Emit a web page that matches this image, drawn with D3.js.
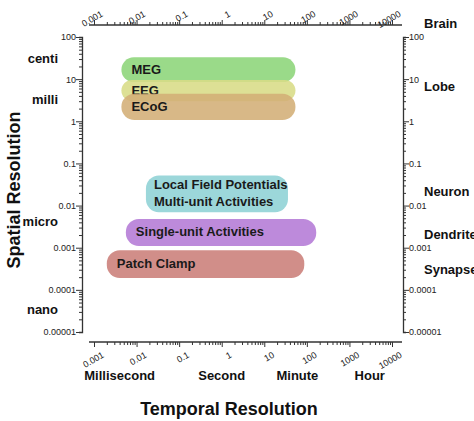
<!DOCTYPE html>
<html><head><meta charset="utf-8">
<script src="https://cdn.jsdelivr.net/npm/d3@7"></script>
<style>body{margin:0;background:#fff}text{font-family:Arial,"Liberation Sans",sans-serif}.nb{font-family:"Liberation Sans Narrow","Arial Narrow",Arial,sans-serif}</style>
</head><body><svg id="chart" width="474" height="421"></svg>
<script>
const techniques = ['MEG', 'EEG', 'ECoG', 'Local Field Potentials|Multi-unit Activities', 'Single-unit Activities', 'Patch Clamp'];
const timeFrom = [0.0044, 0.0044, 0.0044, 0.0166, 0.0056, 0.002];
const timeTo = [54, 54, 54, 36, 166, 87];
const sizeFrom = [8.5, 3.0, 1.07, 0.0069, 0.0011, 0.00019];
const sizeTo = [33, 9.6, 4.5, 0.052, 0.0048, 0.00087];
const colors = ['#8cd579', '#d8dc86', '#d3ae76', '#8ed2d5', '#b47ad6', '#cb7e79'];
const xTicks = [0.001, 0.01, 0.1, 1, 10, 100, 1000, 10000];
const yTicks = [100, 10, 1, 0.1, 0.01, 0.001, 0.0001, 0.00001];
const timeNames = [['Millisecond', 0.004], ['Second', 1], ['Minute', 60], ['Hour', 3000]];
const prefixNames = [['centi', 0.03], ['milli', 0.003], ['micro', 0.0022], ['nano', 0.000007]];
const scaleNames = [['Brain', 220], ['Lobe', 6.5], ['Neuron', 0.022], ['Dendrites', 0.0025], ['Synapse', 0.0005]];

const svg = d3.select('#chart');
const x = d3.scaleLog().domain([0.001, 10000]).range([94, 392]);
const y = d3.scaleLog().domain([0.00001, 100]).range([332, 37]);
const fmt = d => d >= 1 ? String(d) : d.toFixed(Math.round(-Math.log10(d)));

function styleAxis(g) {
  g.select('.domain').attr('stroke', '#333').attr('stroke-width', 1.3);
  g.selectAll('.tick line').attr('stroke', '#333');
  g.selectAll('text').attr('font-size', 9).attr('fill', '#222');
}

// time axes top and bottom
[[25, d3.axisTop, -1], [342, d3.axisBottom, 1]].forEach(([yy, ax, s]) => {
  const g = svg.append('g').attr('transform', `translate(0,${yy})`)
    .call(ax(x).tickValues(x.ticks()).tickSize(3).tickFormat(d => xTicks.includes(d) ? fmt(d) : ''));
  g.select('.domain').attr('d', `M89,0H402`);
  styleAxis(g);
  g.selectAll('.tick').filter(d => xTicks.includes(d)).select('line').attr('y2', 5 * s);
  g.selectAll('text').attr('text-anchor', 'end').attr('transform', s < 0 ? 'translate(12,-4) rotate(-30)' : 'translate(4,4) rotate(-30)');
});

// spatial axes left and right
[[82, d3.axisLeft], [403, d3.axisRight]].forEach(([xx, ax]) => {
  const g = svg.append('g').attr('transform', `translate(${xx},0)`)
    .call(ax(y).tickValues(y.ticks()).tickSize(3).tickFormat(d => yTicks.includes(d) ? fmt(d) : ''));
  styleAxis(g);
  g.selectAll('.tick').filter(d => yTicks.includes(d)).select('line').attr('x2', ax === d3.axisLeft ? -6 : 6);
});

// technique bands
techniques.forEach((t, i) => {
  const x0 = x(timeFrom[i]), x1 = x(timeTo[i]), y0 = y(sizeTo[i]), y1 = y(sizeFrom[i]);
  const h = y1 - y0;
  svg.append('rect').attr('x', x0).attr('y', y0).attr('width', x1 - x0).attr('height', h)
    .attr('rx', Math.min(h / 2, 13)).attr('fill', colors[i]).attr('opacity', 0.88);
  const lines = t.split('|');
  lines.forEach((l, j) => {
    svg.append('text').attr('class', 'nb').attr('x', x0 + (i === 3 ? 8 : 10)).attr('y', (y0 + y1) / 2 + 4 + (j - (lines.length - 1) / 2) * 17)
      .attr('font-size', 13).attr('font-weight', 'bold').attr('fill', '#1a1a1a').text(l);
  });
});

const bold = (tx, ty, s, size, anchor) => svg.append('text').attr('class', 'nb').attr('x', tx).attr('y', ty)
  .attr('font-size', size).attr('font-weight', 'bold').attr('text-anchor', anchor || 'middle').attr('fill', '#111').text(s);

timeNames.forEach(([n, v]) => bold(x(v), 380, n, 13));
prefixNames.forEach(([n, v], i) => bold(58, [63, 104, 226, 314][i], n, 13, 'end'));
scaleNames.forEach(([n, v], i) => bold(424, [28, 91, 196, 239, 274][i], n, 13, 'start'));
bold(229, 415, 'Temporal Resolution', 18);
bold(0, 0, 'Spatial Resolution', 18).attr('transform', 'translate(20,190) rotate(-90)');
</script></body></html>
